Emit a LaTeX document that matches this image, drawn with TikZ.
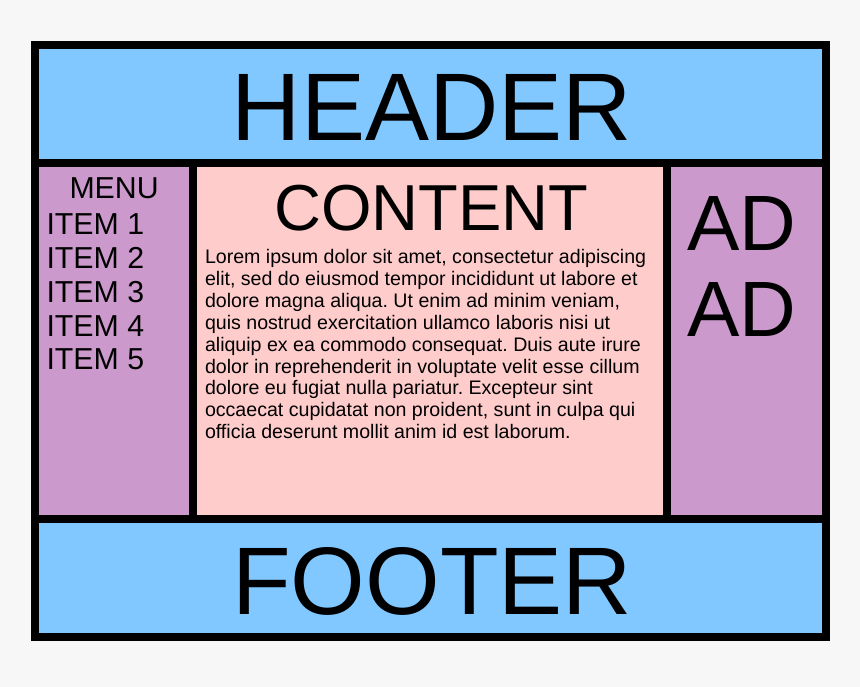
\documentclass[tikz,border=0pt]{standalone}
\usepackage{fontspec}
\setsansfont{Liberation Sans}
\usetikzlibrary{positioning}
\definecolor{hdrblue}{HTML}{80C8FF}
\definecolor{sidepurple}{HTML}{CC99CC}
\definecolor{mainpink}{HTML}{FFCCCC}
\definecolor{bggray}{HTML}{F7F7F7}
\frenchspacing

\begin{document}
\begin{tikzpicture}[x=1pt, y=-1pt, line width=8pt, font=\sffamily]
		\tikzstyle{title}=[inner sep=0pt, anchor=base]
		\tikzstyle{side}=[inner sep=0pt, anchor=base west]
		\tikzstyle{item}=[side, font=\sffamily\fontsize{30.3}{34}\selectfont]
		\tikzstyle{body}=[side, font=\sffamily\fontsize{19.6}{21.8}\selectfont]
		
		\fill[bggray] (0,0) rectangle (860,687);
		\useasboundingbox (0,0) rectangle (860,687);
		
		% cells
		\fill[hdrblue] (35,45) rectangle (825.5,163);
		\fill[sidepurple] (35,163) rectangle (193,519);
		\fill[mainpink] (193,163) rectangle (667,519);
		\fill[sidepurple] (667,163) rectangle (825.5,519);
		\fill[hdrblue] (35,519) rectangle (825.5,637);
		
		% frame
		\draw (35,45) rectangle (825.5,637);
		\draw (35,163) -- (825.5,163);
		\draw (35,519) -- (825.5,519);
		\draw (193,163) -- (193,519);
		\draw (667,163) -- (667,519);
		
		\node[title, font=\sffamily\fontsize{96}{96}\selectfont] (header) at (432,141) {HEADER};
		\node[title, font=\sffamily\fontsize{96}{96}\selectfont] (footer) at (432,614) {FOOTER};
		\node[title, font=\sffamily\fontsize{65}{65}\selectfont] (content) at (431.5,231) {CONTENT};
		\node[side, font=\sffamily\fontsize{78.5}{78.5}\selectfont] (ad1) at (683.5,251) {AD};
		\node[side, font=\sffamily\fontsize{78.5}{78.5}\selectfont] (ad2) at (683.5,337) {AD};
		
		\node[item] (menu) at (65.5,199) {MENU};
		\foreach \i in {1,...,5}
			\node[item] (item\i) at (42.5,{234.3+33.9*(\i-1)}) {ITEM \i};
		
		\foreach \line [count=\k] in {{Lorem ipsum dolor sit amet, consectetur adipiscing},
				{elit, sed do eiusmod tempor incididunt ut labore et},
				{dolore magna aliqua. Ut enim ad minim veniam,},
				{quis nostrud exercitation ullamco laboris nisi ut},
				{aliquip ex ea commodo consequat. Duis aute irure},
				{dolor in reprehenderit in voluptate velit esse cillum},
				{dolore eu fugiat nulla pariatur. Excepteur sint},
				{occaecat cupidatat non proident, sunt in culpa qui},
				{officia deserunt mollit anim id est laborum.}}
			\node[body] (lorem\k) at (201,{264+21.8*(\k-1)}) {\line};
\end{tikzpicture}
\end{document}
